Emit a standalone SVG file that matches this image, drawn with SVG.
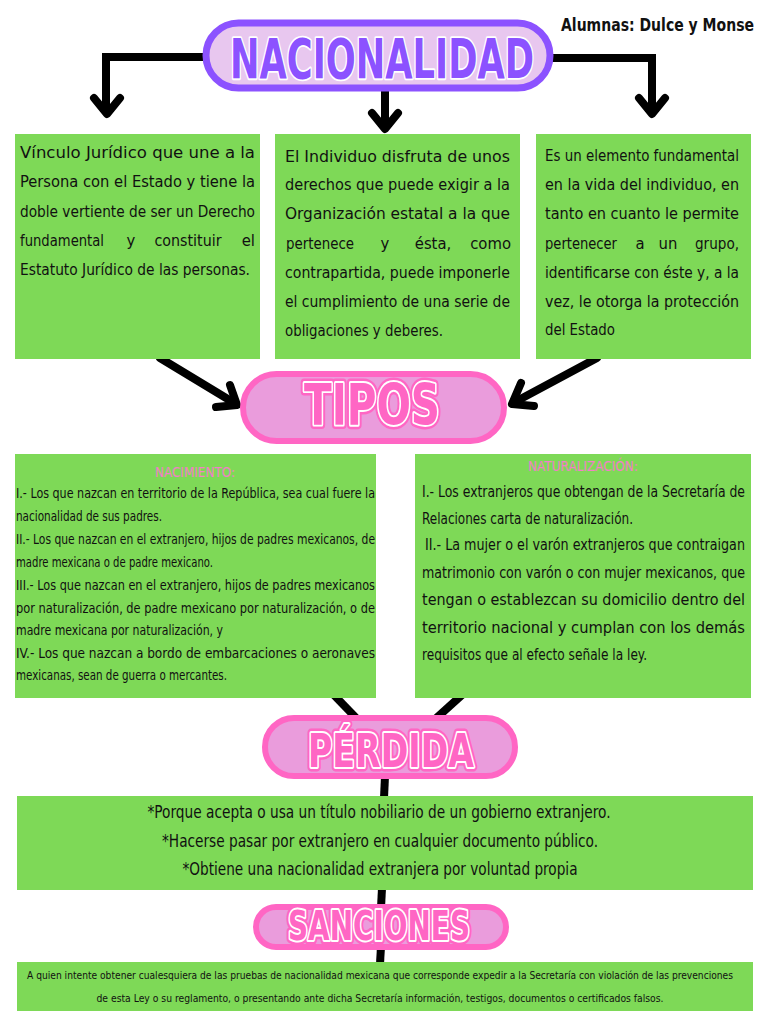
<svg xmlns="http://www.w3.org/2000/svg" width="768" height="1024" viewBox="0 0 768 1024">
<style>
.bg{fill:#ffffff}
.box{fill:#7ed957}
.ln{fill:none;stroke:#000;stroke-width:8;stroke-linejoin:miter;stroke-linecap:butt}
.hd{fill:none;stroke:#000;stroke-width:8;stroke-linejoin:round;stroke-linecap:round}
.t{font-family:"DejaVu Sans Condensed","DejaVu Sans","Liberation Sans",sans-serif;font-stretch:condensed;fill:#111}
.b1{font-size:16.5px}
.b2{font-size:13.5px}
.b3{font-size:13.5px}
.b4{font-size:18px}
.b5{font-size:9.5px}
.m{text-anchor:middle}
.e{text-anchor:end}
.lbl{font-family:"DejaVu Sans Condensed","DejaVu Sans",sans-serif;font-stretch:condensed;fill:#f27fc8;font-size:14px}
.ttl{font-family:"DejaVu Sans Condensed","DejaVu Sans",sans-serif;font-stretch:condensed;font-weight:bold;text-anchor:middle;paint-order:stroke;stroke-linejoin:round}
.pk{fill:#ea9cdc;stroke:#ff66c4;stroke-width:6}
.pkt{fill:#ff66c4;stroke:#ffffff;stroke-width:3}
.pko{fill:#ff66c4;stroke:#ff66c4;stroke-width:7}
</style>
<rect class="bg" x="0" y="0" width="768" height="1024"/>

<g id="connectors">
  <path class="ln" d="M207 57 H106 V112"/>
  <path class="hd" d="M94 98 L107 114 L120 98"/>
  <path class="ln" d="M385 88 V128"/>
  <path class="hd" d="M372 113 L385 129 L398 113"/>
  <path class="ln" d="M551 58 H652 V112"/>
  <path class="hd" d="M639 98 L652 114 L665 98"/>
  <path class="hd" d="M160 358 L236 404"/>
  <path class="hd" d="M230 385 L237 405 L216 407"/>
  <path class="hd" d="M597 358 L513 403"/>
  <path class="hd" d="M521 383 L512 404 L534 406"/>
  <path class="ln" d="M333 694 L360 722"/>
  <path class="ln" d="M463 694 L432 722"/>
  <path class="ln" d="M385 776 L384 798"/>
  <path class="ln" d="M382 888 L381 908"/>
  <path class="ln" d="M381 946 L380 964"/>
</g>

<g id="node-alumnas">
  <text class="t" transform="translate(561 31) scale(1 1.15)" x="0" y="0" font-size="16" font-weight="bold" textLength="193" lengthAdjust="spacingAndGlyphs">Alumnas: Dulce y Monse</text>
</g>

<g id="node-nacionalidad">
  <rect x="206" y="23" width="344" height="65" rx="32.5" fill="#e8c7ef" stroke="#8c52ff" stroke-width="7"/>
  <text class="ttl" transform="translate(382 78) scale(1 1.45)" x="0" y="0" font-size="38" fill="#8c52ff" stroke="#ffffff" stroke-width="2.5" textLength="304" lengthAdjust="spacingAndGlyphs">NACIONALIDAD</text>
</g>

<g id="node-def1">
  <rect class="box" x="15" y="134" width="245" height="225"/>
  <text class="t b1" x="20" y="158" textLength="235" lengthAdjust="spacingAndGlyphs">Vínculo Jurídico que une a la</text>
  <text class="t b1" x="20" y="187" textLength="235" lengthAdjust="spacingAndGlyphs">Persona con el Estado y tiene la</text>
  <text class="t b1" x="20" y="217" textLength="235" lengthAdjust="spacingAndGlyphs">doble vertiente de ser un Derecho</text>
  <text class="t b1" x="20" y="246" textLength="84" lengthAdjust="spacingAndGlyphs">fundamental</text>
  <text class="t b1 m" x="131" y="246">y</text>
  <text class="t b1 m" x="188" y="246" textLength="67" lengthAdjust="spacingAndGlyphs">constituir</text>
  <text class="t b1 e" x="255" y="246">el</text>
  <text class="t b1" x="20" y="275" textLength="230" lengthAdjust="spacingAndGlyphs">Estatuto Jurídico de las personas.</text>
</g>

<g id="node-def2">
  <rect class="box" x="275" y="134" width="245" height="225"/>
  <text class="t b1" x="285" y="162" textLength="225" lengthAdjust="spacingAndGlyphs">El Individuo disfruta de unos</text>
  <text class="t b1" x="285" y="190" textLength="225" lengthAdjust="spacingAndGlyphs">derechos que puede exigir a la</text>
  <text class="t b1" x="285" y="219" textLength="225" lengthAdjust="spacingAndGlyphs">Organización estatal a la que</text>
  <text class="t b1" x="286" y="249" textLength="68" lengthAdjust="spacingAndGlyphs">pertenece</text>
  <text class="t b1 m" x="385" y="249">y</text>
  <text class="t b1 m" x="433" y="249">ésta,</text>
  <text class="t b1 e" x="511" y="249">como</text>
  <text class="t b1" x="285" y="278" textLength="225" lengthAdjust="spacingAndGlyphs">contrapartida, puede imponerle</text>
  <text class="t b1" x="285" y="307" textLength="225" lengthAdjust="spacingAndGlyphs">el cumplimiento de una serie de</text>
  <text class="t b1" x="285" y="336" textLength="158" lengthAdjust="spacingAndGlyphs">obligaciones y deberes.</text>
</g>

<g id="node-def3">
  <rect class="box" x="536" y="134" width="215" height="225"/>
  <text class="t b1" x="545" y="161" textLength="194" lengthAdjust="spacingAndGlyphs">Es un elemento fundamental</text>
  <text class="t b1" x="545" y="190" textLength="194" lengthAdjust="spacingAndGlyphs">en la vida del individuo, en</text>
  <text class="t b1" x="545" y="219" textLength="194" lengthAdjust="spacingAndGlyphs">tanto en cuanto le permite</text>
  <text class="t b1" x="545" y="249" textLength="72" lengthAdjust="spacingAndGlyphs">pertenecer</text>
  <text class="t b1 m" x="640" y="249">a</text>
  <text class="t b1 m" x="668" y="249">un</text>
  <text class="t b1 e" x="739" y="249" textLength="44" lengthAdjust="spacingAndGlyphs">grupo,</text>
  <text class="t b1" x="545" y="278" textLength="194" lengthAdjust="spacingAndGlyphs">identificarse con éste y, a la</text>
  <text class="t b1" x="545" y="307" textLength="194" lengthAdjust="spacingAndGlyphs">vez, le otorga la protección</text>
  <text class="t b1" x="545" y="335" textLength="70" lengthAdjust="spacingAndGlyphs">del Estado</text>
</g>

<g id="node-tipos">
  <rect class="pk" x="243" y="374" width="261" height="67" rx="33.5"/>
  <text class="ttl pko" transform="translate(372 425) scale(1 1.25)" x="0" y="0" font-size="45" textLength="136" lengthAdjust="spacingAndGlyphs">TIPOS</text>
  <text class="ttl pkt" transform="translate(372 425) scale(1 1.25)" x="0" y="0" font-size="45" textLength="136" lengthAdjust="spacingAndGlyphs">TIPOS</text>
</g>

<g id="node-nacimiento">
  <rect class="box" x="15" y="454" width="361" height="244"/>
  <text class="lbl" x="155" y="477" textLength="80" lengthAdjust="spacingAndGlyphs">NACIMIENTO:</text>
  <text class="t b2" x="16" y="498" textLength="359" lengthAdjust="spacingAndGlyphs">I.- Los que nazcan en territorio de la República, sea cual fuere la</text>
  <text class="t b2" x="16" y="521" textLength="146" lengthAdjust="spacingAndGlyphs">nacionalidad de sus padres.</text>
  <text class="t b2" x="16" y="544" textLength="359" lengthAdjust="spacingAndGlyphs">II.- Los que nazcan en el extranjero, hijos de padres mexicanos, de</text>
  <text class="t b2" x="16" y="567" textLength="197" lengthAdjust="spacingAndGlyphs">madre mexicana o de padre mexicano.</text>
  <text class="t b2" x="16" y="590" textLength="359" lengthAdjust="spacingAndGlyphs">III.- Los que nazcan en el extranjero, hijos de padres mexicanos</text>
  <text class="t b2" x="16" y="613" textLength="359" lengthAdjust="spacingAndGlyphs">por naturalización, de padre mexicano por naturalización, o de</text>
  <text class="t b2" x="16" y="635" textLength="207" lengthAdjust="spacingAndGlyphs">madre mexicana por naturalización, y</text>
  <text class="t b2" x="16" y="658" textLength="359" lengthAdjust="spacing">IV.- Los que nazcan a bordo de embarcaciones o aeronaves</text>
  <text class="t b2" x="16" y="680" textLength="211" lengthAdjust="spacingAndGlyphs">mexicanas, sean de guerra o mercantes.</text>
</g>

<g id="node-naturalizacion">
  <rect class="box" x="415" y="454" width="336" height="244"/>
  <text class="lbl" x="528" y="471" textLength="110" lengthAdjust="spacingAndGlyphs">NATURALIZACIÓN:</text>
  <text class="t b3" transform="translate(422 497) scale(1 1.15)" x="0" y="0" textLength="323" lengthAdjust="spacingAndGlyphs">I.- Los extranjeros que obtengan de la Secretaría de</text>
  <text class="t b3" transform="translate(422 524) scale(1 1.15)" x="0" y="0" textLength="211" lengthAdjust="spacingAndGlyphs">Relaciones carta de naturalización.</text>
  <text class="t b3" transform="translate(425 550) scale(1 1.15)" x="0" y="0" textLength="320" lengthAdjust="spacingAndGlyphs">II.- La mujer o el varón extranjeros que contraigan</text>
  <text class="t b3" transform="translate(422 578) scale(1 1.15)" x="0" y="0" textLength="323" lengthAdjust="spacingAndGlyphs">matrimonio con varón o con mujer mexicanos, que</text>
  <text class="t b3" transform="translate(422 605) scale(1 1.15)" x="0" y="0" textLength="323" lengthAdjust="spacingAndGlyphs">tengan o establezcan su domicilio dentro del</text>
  <text class="t b3" transform="translate(422 633) scale(1 1.15)" x="0" y="0" textLength="323" lengthAdjust="spacingAndGlyphs">territorio nacional y cumplan con los demás</text>
  <text class="t b3" transform="translate(422 660) scale(1 1.15)" x="0" y="0" textLength="225" lengthAdjust="spacingAndGlyphs">requisitos que al efecto señale la ley.</text>
</g>

<g id="node-perdida">
  <rect class="pk" x="265" y="718" width="250" height="58" rx="29"/>
  <text class="ttl pko" transform="translate(391 767) scale(1 1.26)" x="0" y="0" font-size="37" textLength="166" lengthAdjust="spacingAndGlyphs">PÉRDIDA</text>
  <text class="ttl pkt" transform="translate(391 767) scale(1 1.26)" x="0" y="0" font-size="37" textLength="166" lengthAdjust="spacingAndGlyphs">PÉRDIDA</text>
</g>

<g id="node-perdida-causas">
  <rect class="box" x="17" y="796" width="736" height="94"/>
  <text class="t b4 m" x="379" y="818" textLength="463" lengthAdjust="spacingAndGlyphs">*Porque acepta o usa un título nobiliario de un gobierno extranjero.</text>
  <text class="t b4 m" x="380" y="847" textLength="436" lengthAdjust="spacingAndGlyphs">*Hacerse pasar por extranjero en cualquier documento público.</text>
  <text class="t b4 m" x="380" y="875" textLength="395" lengthAdjust="spacingAndGlyphs">*Obtiene una nacionalidad extranjera por voluntad propia</text>
</g>

<g id="node-sanciones">
  <rect class="pk" x="256" y="907" width="250" height="40" rx="20" stroke-width="5"/>
  <text class="ttl pko" transform="translate(379 940) scale(1 1.33)" x="0" y="0" font-size="31" textLength="182" lengthAdjust="spacingAndGlyphs">SANCIONES</text>
  <text class="ttl pkt" transform="translate(379 940) scale(1 1.33)" x="0" y="0" font-size="31" textLength="182" lengthAdjust="spacingAndGlyphs">SANCIONES</text>
</g>

<g id="node-sanciones-texto">
  <rect class="box" x="17" y="962" width="736" height="49"/>
  <text class="t b5 m" transform="translate(380 979) scale(1 1.15)" x="0" y="0" textLength="706" lengthAdjust="spacingAndGlyphs">A quien intente obtener cualesquiera de las pruebas de nacionalidad mexicana que corresponde expedir a la Secretaría con violación de las prevenciones</text>
  <text class="t b5 m" transform="translate(380 1002) scale(1 1.15)" x="0" y="0" textLength="567" lengthAdjust="spacingAndGlyphs">de esta Ley o su reglamento, o presentando ante dicha Secretaría información, testigos, documentos o certificados falsos.</text>
</g>
</svg>
